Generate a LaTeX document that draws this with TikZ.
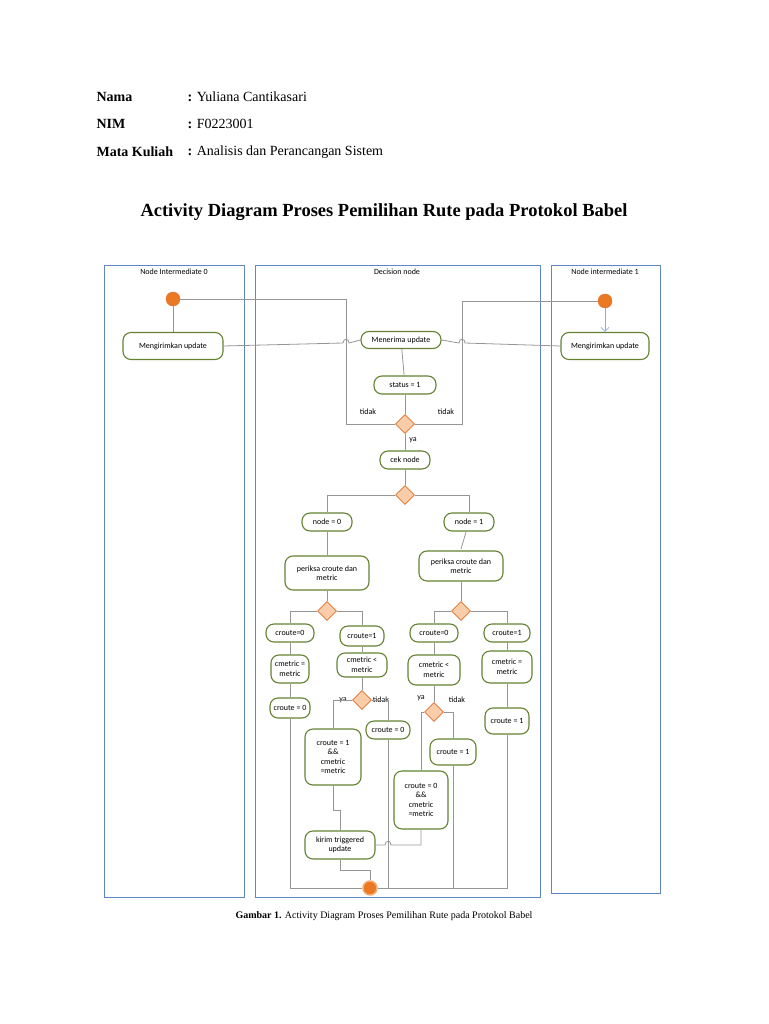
\documentclass[tikz,border=0pt]{standalone}
\usepackage{fontspec}
\setmainfont{Liberation Serif}
\newfontfamily\diag{Carlito}
\usetikzlibrary{shapes.geometric,arrows.meta}
\definecolor{lane}{RGB}{95,135,200}
\definecolor{actg}{RGB}{100,130,50}
\definecolor{dfill}{RGB}{250,205,170}
\definecolor{dline}{RGB}{220,110,40}
\definecolor{ini}{RGB}{235,120,35}
\definecolor{conn}{RGB}{150,150,150}
\tikzset{
 act/.style={draw=actg,line width=1.1pt,rounded corners=8pt,fill=white,font=\diag\fontsize{8}{9.5}\selectfont,align=center,inner sep=1.5pt},
 dec/.style={diamond,draw=dline,fill=dfill,line width=0.8pt,minimum width=19pt,minimum height=19pt,inner sep=0pt},
 initn/.style={circle,fill=ini,draw=dline,minimum size=14pt,inner sep=0pt},
 lanebox/.style={draw=lane,line width=0.9pt},
 cl/.style={draw=conn,line width=0.8pt},
 lbl/.style={font=\diag\fontsize{8}{9}\selectfont,inner sep=1pt},
}
\begin{document}
\begin{tikzpicture}[x=1pt,y=-1pt]
\useasboundingbox (0,0) rectangle (768,1024);
% header
\node[anchor=west,font=\fontsize{14}{16}\selectfont\bfseries] at (93,97) {Nama};
\node[anchor=west,font=\fontsize{14}{16}\selectfont] at (184,97) {\textbf{:} Yuliana Cantikasari};
\node[anchor=west,font=\fontsize{14}{16}\selectfont\bfseries] at (93,124) {NIM};
\node[anchor=west,font=\fontsize{14}{16}\selectfont] at (184,124) {\textbf{:} F0223001};
\node[anchor=west,font=\fontsize{14}{16}\selectfont\bfseries] at (93,152) {Mata Kuliah};
\node[anchor=west,font=\fontsize{14}{16}\selectfont] at (184,152) {\textbf{:} Analisis dan Perancangan Sistem};
\node[font=\fontsize{18.5}{21}\selectfont\bfseries] at (384,212) {Activity Diagram Proses Pemilihan Rute pada Protokol Babel};
\node[font=\fontsize{10}{12}\selectfont] at (384,916) {\textbf{Gambar 1.} Activity Diagram Proses Pemilihan Rute pada Protokol Babel};
% lanes
\draw[lanebox] (104,265) rectangle (244,897);
\draw[lanebox] (255,265) rectangle (540,897);
\draw[lanebox] (551,265) rectangle (660,893);
\node[lbl] at (174,272) {Node Intermediate 0};
\node[lbl] at (397,272) {Decision node};
\node[lbl] at (605,272) {Node intermediate 1};
% connectors first (behind nodes)
\coordinate (bl) at (290,888);
\coordinate (br) at (507,888);
% nodes
\node[initn] (i0) at (173,299) {};
\node[initn] (i1) at (605,301) {};
\node[act,minimum width=100pt,minimum height=27pt] (m0) at (173,346) {Mengirimkan update};
\node[act,minimum width=88pt,minimum height=27pt] (m1) at (605,346) {Mengirimkan update};
\node[act,minimum width=80pt,minimum height=17pt] (mu) at (401,340) {Menerima update};
\node[act,minimum width=62pt,minimum height=18pt] (st) at (405,385) {status = 1};
\node[dec] (d1) at (405,424) {};
\node[act,minimum width=50pt,minimum height=18pt] (ck) at (405,460) {cek node};
\node[dec] (d2) at (405,495) {};
\node[act,minimum width=50pt,minimum height=18pt] (n0) at (327,522) {node = 0};
\node[act,minimum width=50pt,minimum height=18pt] (n1) at (469,522) {node = 1};
\node[act,minimum width=84pt,minimum height=34pt] (p0) at (327,573) {periksa croute dan\\metric};
\node[act,minimum width=84pt,minimum height=30pt] (p1) at (461,566) {periksa croute dan\\metric};
\node[dec] (d3) at (327,611) {};
\node[dec] (d4) at (461,611) {};
\node[act,minimum width=48pt,minimum height=18pt] (a1) at (290,633) {croute=0};
\node[act,minimum width=44pt,minimum height=20pt] (a2) at (362,636) {croute=1};
\node[act,minimum width=48pt,minimum height=18pt] (a3) at (434,633) {croute=0};
\node[act,minimum width=46pt,minimum height=18pt] (a4) at (507,633) {croute=1};
\node[act,minimum width=38pt,minimum height=28pt] (b1) at (290,669) {cmetric =\\metric};
\node[act,minimum width=50pt,minimum height=24pt] (b2) at (362,665) {cmetric <\\metric};
\node[act,minimum width=52pt,minimum height=30pt] (b3) at (434,670) {cmetric <\\metric};
\node[act,minimum width=50pt,minimum height=32pt] (b4) at (507,667) {cmetric =\\metric};
\node[act,minimum width=40pt,minimum height=20pt] (c1) at (290,708) {croute = 0};
\node[dec] (d5) at (362,700) {};
\node[dec] (d6) at (434,712) {};
\node[act,minimum width=44pt,minimum height=18pt] (c2) at (388,730) {croute = 0};
\node[act,minimum width=44pt,minimum height=26pt] (c4) at (507,721) {croute = 1};
\node[act,minimum width=46pt,minimum height=26pt] (c3) at (453,752) {croute = 1};
\node[act,minimum width=56pt,minimum height=56pt] (e1) at (333,757) {croute = 1\\\&\&\\cmetric\\=metric};
\node[act,minimum width=54pt,minimum height=58pt] (e2) at (421,800) {croute = 0\\\&\&\\cmetric\\=metric};
\node[act,minimum width=70pt,minimum height=28pt] (kt) at (340,845) {kirim triggered\\update};
\node[initn,draw=ini!60,line width=1.5pt] (fin) at (370,888) {};
% labels
\node[lbl] at (368,412) {tidak};
\node[lbl] at (446,412) {tidak};
\node[lbl] at (413,440) {ya};
\node[lbl] at (343,700) {ya};
\node[lbl] at (381,700) {tidak};
\node[lbl] at (421,698) {ya};
\node[lbl] at (457,700) {tidak};
% connectors
\begin{scope}[on background layer/.style={}]
\draw[cl] (i0) -- (m0);
\draw[cl] (d1.west) -- (346,424) -- (346,299) -- (i0.east);
\draw[cl] (d1.east) -- (462,424) -- (462,301) -- (i1.west);
\draw[cl] (m0.east) -- (343,343) .. controls (343,338) and (349,338) .. (349,343) -- (mu.west);
\draw[cl] (m1.west) -- (465,343) .. controls (465,338) and (459,338) .. (459,343) -- (mu.east);
\draw[-{Straight Barb[length=4pt]},draw=lane!70,line width=0.7pt] (i1) -- (m1);
\draw[cl] (mu) -- (st);
\draw[cl] (st) -- (d1);
\draw[cl] (d1) -- (ck);
\draw[cl] (ck) -- (d2);
\draw[cl] (d2.west) -| (n0.north);
\draw[cl] (d2.east) -| (n1.north);
\draw[cl] (n0) -- (p0);
\draw[cl] (n1) -- (461,549);
\draw[cl] (p0) -- (d3);
\draw[cl] (p1) -- (d4);
\draw[cl] (d3.west) -| (a1.north);
\draw[cl] (d3.east) -| (a2.north);
\draw[cl] (d4.west) -| (a3.north);
\draw[cl] (d4.east) -| (a4.north);
\draw[cl] (a1) -- (b1);
\draw[cl] (a2) -- (b2);
\draw[cl] (a3) -- (b3);
\draw[cl] (a4) -- (b4);
\draw[cl] (b1) -- (c1);
\draw[cl] (b2) -- (d5);
\draw[cl] (b3) -- (d6);
\draw[cl] (b4) -- (c4);
\draw[cl] (d5.west) -| (e1.north);
\draw[cl] (d5.east) -| (c2.north);
\draw[cl] (d6.west) -| (e2.north);
\draw[cl] (d6.east) -| (c3.north);
\draw[cl] (c1.south) -- (bl) -- (fin.west);
\draw[cl] (c4.south) -- (br) -- (fin.east);
\draw[cl] (c2.south) -- (388,888);
\draw[cl] (c3.south) -- (453,888);
\draw[cl] (e1.south) -- (333,810) -- (340,810) -- (kt.north);
\draw[cl] (kt.south) -- (340,870) -- (370,870) -- (fin.north);
\draw[cl] (kt.east) -- (385,845) .. controls (385,840) and (391,840) .. (391,845) -- (421,845) -- (e2.south);
\end{scope}
\end{tikzpicture}
\end{document}
